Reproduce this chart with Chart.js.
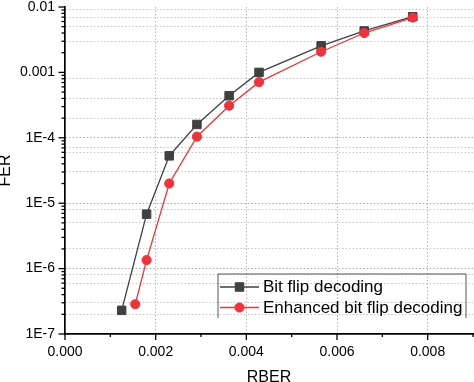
<!DOCTYPE html>
<html>
<head>
<meta charset="utf-8">
<script src="https://cdn.jsdelivr.net/npm/chart.js@4/dist/chart.umd.min.js"></script>
<style>
  html, body { margin: 0; padding: 0; background: #ffffff; }
  #wrap { width: 474px; height: 382px; }
</style>
</head>
<body>
<div id="wrap"><canvas id="c" width="474" height="382"></canvas></div>
<script>
// ---- data ----
const seriesNames = ['Bit flip decoding', 'Enhanced bit flip decoding'];
const rberBitFlip  = [0.00125, 0.00180, 0.00230, 0.00291, 0.00362, 0.00428, 0.00565, 0.00660, 0.00767];
const ferBitFlip   = [2.3e-7, 6.8e-6, 5.3e-5, 1.6e-4, 4.4e-4, 1.0e-3, 2.55e-3, 4.3e-3, 7.1e-3];
const rberEnhanced = [0.00155, 0.00180, 0.00230, 0.00291, 0.00362, 0.00428, 0.00565, 0.00660, 0.00767];
const ferEnhanced  = [2.85e-7, 1.35e-6, 2.0e-5, 1.04e-4, 3.1e-4, 7.1e-4, 2.07e-3, 4.0e-3, 6.9e-3];

const xTickValues = [0, 0.002, 0.004, 0.006, 0.008];
const xTickLabels = ['0.000', '0.002', '0.004', '0.006', '0.008'];
const yTickValues = [1e-7, 1e-6, 1e-5, 1e-4, 1e-3, 1e-2];
const yTickLabels = ['1E-7', '1E-6', '1E-5', '1E-4', '0.001', '0.01'];

// ---- styling ----
const FONT = "'Liberation Sans', Arial, Helvetica, sans-serif";
const colBlack = '#404040';
const colRed = '#f0333b';
// faint grid lines that remain visible in the reference
const visibleMinorGrid = [9e-3, 7e-3, 5e-3, 3e-3, 8e-4, 4e-4, 2e-4, 1e-4, 7e-5, 6e-5, 3e-5,
                          1e-5, 8e-6, 5e-6, 2e-6, 1e-6, 8e-7, 6e-7, 3e-7, 2e-7];

function near(a, b) { return Math.abs(a - b) <= Math.abs(b) * 1e-6 + 1e-12; }
function isMajorX(v) { return xTickValues.some(t => near(v, t)); }
function isMajorY(v) { return yTickValues.some(t => near(v, t)); }

function toPoints(xs, ys) { return xs.map((x, i) => ({ x: x, y: ys[i] })); }

const tickPlugin = {
  id: 'tickMarks',
  afterDraw(chart) {
    const ctx = chart.ctx;
    const xs = chart.scales.x, ys = chart.scales.y;
    const ca = chart.chartArea;
    ctx.save();
    ctx.strokeStyle = '#000';
    ctx.lineWidth = 1.3;
    ctx.setLineDash([]);
    xs.ticks.forEach(t => {
      const px = xs.getPixelForValue(t.value);
      const len = isMajorX(t.value) ? 6 : 3;
      ctx.beginPath();
      ctx.moveTo(px, ca.bottom);
      ctx.lineTo(px, ca.bottom + len);
      ctx.stroke();
    });
    ys.ticks.forEach(t => {
      const py = ys.getPixelForValue(t.value);
      const len = isMajorY(t.value) ? 6.5 : 3.5;
      ctx.beginPath();
      ctx.moveTo(ca.left, py);
      ctx.lineTo(ca.left - len, py);
      ctx.stroke();
    });
    ctx.restore();

    // legend box (open at the bottom like the reference)
    const left = ca.right - 255, right = ca.right - 7, top = ca.top + 267, bottom = ca.top + 311;
    ctx.save();
    ctx.setLineDash([]);
    ctx.strokeStyle = '#555';
    ctx.lineWidth = 1;
    ctx.beginPath();
    ctx.moveTo(left, bottom);
    ctx.lineTo(left, top);
    ctx.lineTo(right, top);
    ctx.lineTo(right, bottom);
    ctx.stroke();
    ctx.font = '17px ' + FONT;
    ctx.textBaseline = 'middle';
    ctx.fillStyle = '#000';
    chart.data.datasets.forEach((ds, i) => {
      const y = top + 13 + i * 20.5;
      ctx.strokeStyle = ds.borderColor;
      ctx.lineWidth = 1.3;
      ctx.beginPath();
      ctx.moveTo(left + 2, y);
      ctx.lineTo(left + 41, y);
      ctx.stroke();
      ctx.fillStyle = ds.pointBackgroundColor;
      ctx.strokeStyle = ds.pointBorderColor;
      ctx.lineWidth = 1;
      Chart.helpers.drawPoint(ctx, { pointStyle: ds.pointStyle, radius: ds.pointRadius, borderWidth: 1 }, left + 21.5, y);
      ctx.fillStyle = '#000';
      ctx.fillText(ds.label, left + 45, y + 0.5);
    });
    ctx.restore();
  }
};

new Chart(document.getElementById('c'), {
  type: 'line',
  data: {
    datasets: [
      {
        label: seriesNames[0],
        data: toPoints(rberBitFlip, ferBitFlip),
        borderColor: colBlack,
        backgroundColor: colBlack,
        pointBackgroundColor: colBlack,
        pointBorderColor: colBlack,
        pointStyle: 'rect',
        pointRadius: 6,
        pointBorderWidth: 1,
        borderWidth: 1.3,
        tension: 0,
        order: 1
      },
      {
        label: seriesNames[1],
        data: toPoints(rberEnhanced, ferEnhanced),
        borderColor: colRed,
        backgroundColor: colRed,
        pointBackgroundColor: colRed,
        pointBorderColor: colRed,
        pointStyle: 'circle',
        pointRadius: 4.6,
        pointBorderWidth: 1,
        borderWidth: 1.3,
        tension: 0,
        order: 0
      }
    ]
  },
  options: {
    responsive: false,
    animation: false,
    events: [],
    layout: { autoPadding: false, padding: { top: 7, right: 1, left: 0, bottom: 0 } },
    plugins: { legend: { display: false }, tooltip: { enabled: false } },
    scales: {
      x: {
        type: 'linear',
        min: 0,
        max: 0.009,
        afterFit(scale) { scale.height = 48; scale.paddingLeft = 0; scale.paddingRight = 0; },
        afterBuildTicks(scale) {
          const t = [];
          for (let i = 0; i <= 9; i++) t.push({ value: i / 1000 });
          scale.ticks = t;
        },
        ticks: {
          autoSkip: false,
          maxRotation: 0,
          padding: 10,
          color: '#000',
          font: { family: FONT, size: 14 },
          callback(value) {
            const i = xTickValues.findIndex(t => near(value, t));
            return i >= 0 ? xTickLabels[i] : '';
          }
        },
        grid: {
          drawTicks: false,
          lineWidth: 1,
          color: ctx => (ctx.tick && isMajorX(ctx.tick.value) && ctx.tick.value > 0) ? '#b4b4b4' : 'rgba(0,0,0,0)'
        },
        border: { display: true, color: '#000', width: 1.7, dash: [1.5, 2] },
        title: {
          display: true,
          text: 'RBER',
          color: '#000',
          font: { family: FONT, size: 16, lineHeight: 1 },
          padding: { top: 0, bottom: -4 }
        }
      },
      y: {
        type: 'logarithmic',
        min: 1e-7,
        max: 1e-2,
        afterFit(scale) { scale.width = 65; scale.paddingTop = 0; scale.paddingBottom = 0; },
        afterBuildTicks(scale) {
          const t = [];
          for (let e = -7; e <= -2; e++) {
            for (let m = 1; m <= 9; m++) {
              const v = m * Math.pow(10, e);
              if (v <= 1e-2 * 1.000001) t.push({ value: v });
            }
          }
          scale.ticks = t;
        },
        ticks: {
          autoSkip: false,
          padding: 10,
          color: '#000',
          font: { family: FONT, size: 14 },
          callback(value) {
            const i = yTickValues.findIndex(t => near(value, t));
            return i >= 0 ? yTickLabels[i] : '';
          }
        },
        grid: {
          drawTicks: false,
          lineWidth: 1,
          color: ctx => {
            if (!ctx.tick) return 'rgba(0,0,0,0)';
            const v = ctx.tick.value;
            if (!visibleMinorGrid.some(g => near(v, g))) return 'rgba(0,0,0,0)';
            return isMajorY(v) ? '#a8a8a8' : '#c4c4c4';
          }
        },
        border: { display: true, color: '#000', width: 1.7, dash: [1.5, 2] },
        title: {
          display: true,
          text: 'FER',
          color: '#000',
          font: { family: FONT, size: 16, lineHeight: 1 },
          padding: { top: -2, bottom: 0 }
        }
      }
    }
  },
  plugins: [tickPlugin]
});
</script>
</body>
</html>
